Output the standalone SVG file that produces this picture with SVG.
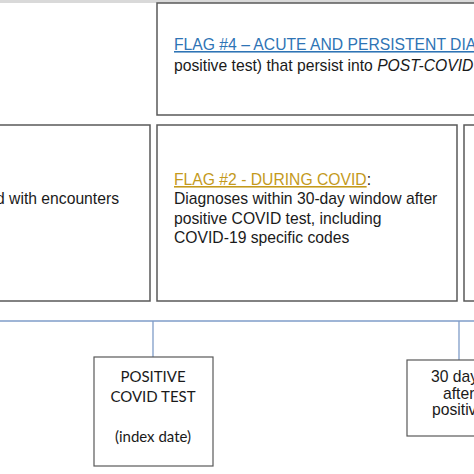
<svg xmlns="http://www.w3.org/2000/svg" width="474" height="474" viewBox="0 0 474 474">
<style>
.box{fill:#fff;stroke:#595959;stroke-width:1.5}
.sbox{fill:#fff;stroke:#595959;stroke-width:1.2}
.t{font-family:"Liberation Sans",Arial,sans-serif;font-size:15.7px;fill:#1a1a1a}
.c{font-family:Lato,"Noto Sans",sans-serif;font-size:15px;fill:#1a1a1a;text-anchor:middle}
.tl{stroke:#7f9cc8;stroke-width:1.3;fill:none}
</style>
<rect x="0" y="0" width="474" height="474" fill="#fff"/>
<rect x="0" y="0" width="474" height="3" fill="#d9d9d9"/>
<g id="flag4">
<rect class="box" x="157" y="3" width="330" height="112"/>
<text class="t" x="174" y="50" style="fill:#2e74b5" text-decoration="underline">FLAG #4 – ACUTE AND PERSISTENT DIAGNOSES</text>
<text class="t" x="174" y="71">positive test) that persist into <tspan font-style="italic">POST-COVID</tspan></text>
</g>
<g id="flag1">
<rect class="box" x="-10" y="125" width="160" height="176"/>
<text class="t" x="119" y="204" text-anchor="end">d with encounters</text>
</g>
<g id="flag2">
<rect class="box" x="157" y="125" width="300" height="176"/>
<text class="t" x="174" y="185"><tspan style="fill:#c49a1c" text-decoration="underline">FLAG #2 - DURING COVID</tspan>:</text>
<text class="t" x="174" y="204">Diagnoses within 30-day window after</text>
<text class="t" x="174" y="224">positive COVID test, including</text>
<text class="t" x="174" y="243">COVID-19 specific codes</text>
</g>
<g id="flag3">
<rect class="box" x="464" y="125" width="30" height="176"/>
</g>
<g id="connectors">
<line class="tl" x1="0" y1="321" x2="474" y2="321"/>
<line class="tl" x1="153" y1="321" x2="153" y2="357"/>
<line class="tl" x1="459" y1="321" x2="459" y2="360"/>
</g>
<g id="index">
<rect class="sbox" x="94" y="357" width="119" height="109"/>
<text class="c" x="153" y="382">POSITIVE</text>
<text class="c" x="153" y="402">COVID TEST</text>
<text class="c" x="153" y="442">(index date)</text>
</g>
<g id="day30">
<rect class="sbox" x="407" y="360" width="80" height="76"/>
<text class="t" x="431" y="382">30 days</text>
<text class="t" x="443" y="399">after</text>
<text class="t" x="432" y="415">positive</text>
</g>
</svg>
